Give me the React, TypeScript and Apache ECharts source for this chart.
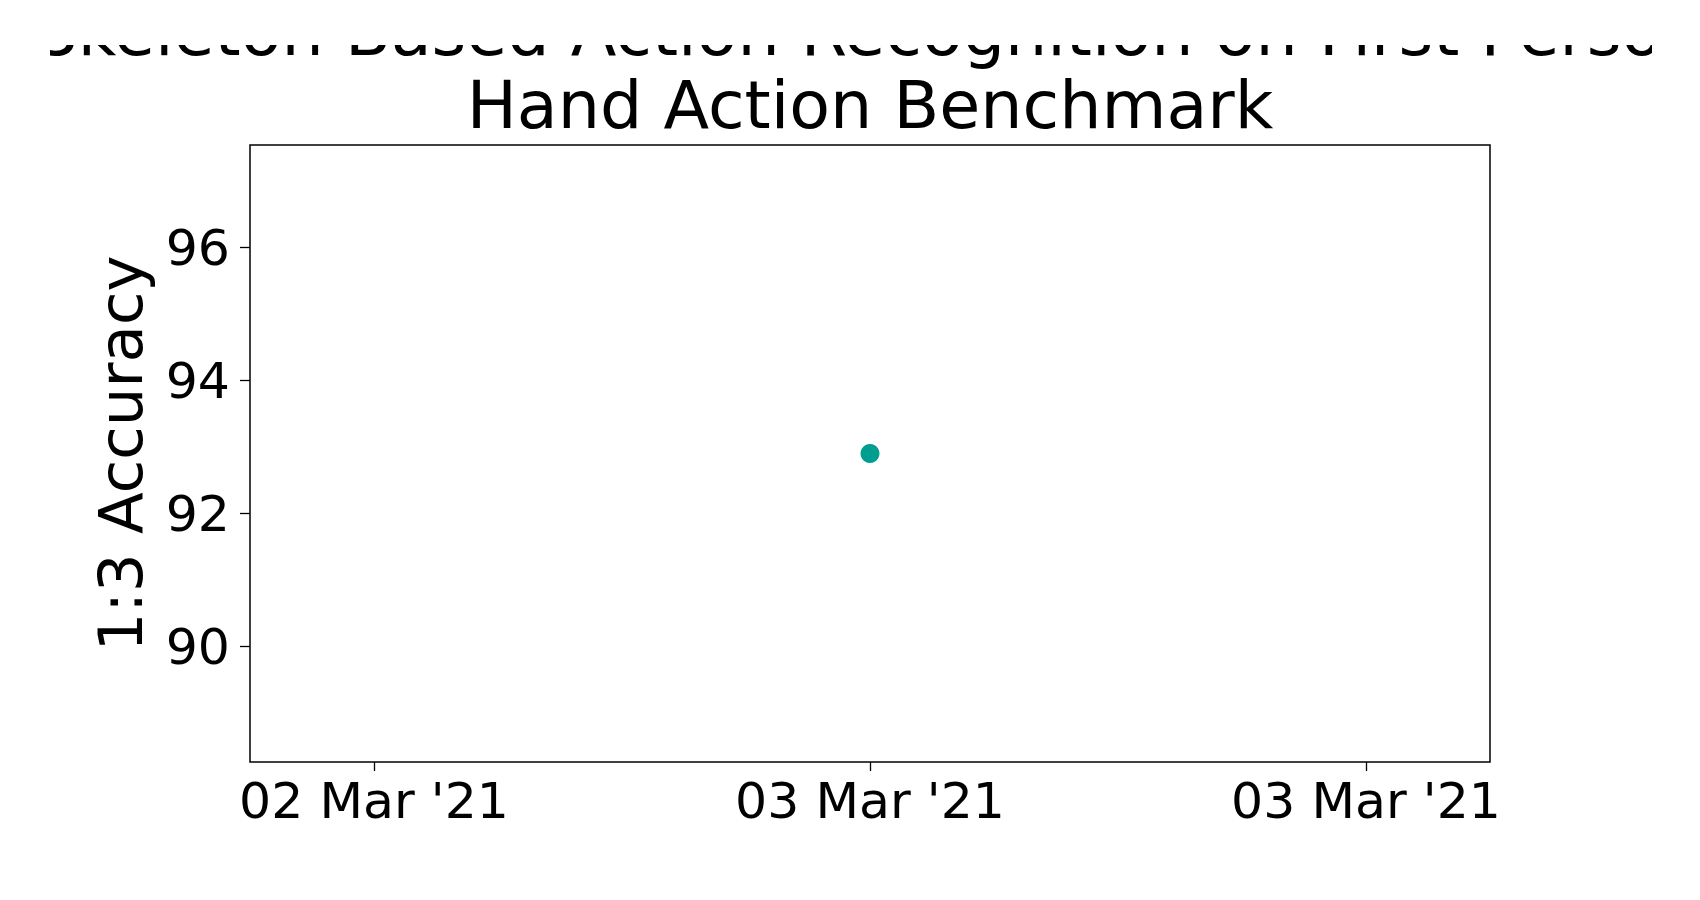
import React, { useEffect, useRef } from "react";
import * as echarts from "echarts";

// ---- data ----
const titleLines = [
  "Skeleton Based Action Recognition on First Person",
  "Hand Action Benchmark",
];
const yAxisTitle = "1:3 Accuracy";
const dates = ["2021-03-03T00:00"];
const accuracy = [92.9];
const yTicks = [90, 92, 94, 96];
const xTickDates = ["2021-03-02T12:00", "2021-03-03T00:00", "2021-03-03T12:00"];
const xRange = ["2021-03-02T09:00", "2021-03-03T15:00"];
const yRange = [88.255, 97.545];
const MONTHS = ["Jan", "Feb", "Mar", "Apr", "May", "Jun", "Jul", "Aug", "Sep", "Oct", "Nov", "Dec"];

function toUTC(s: string): number {
  const [d, t] = s.split("T");
  const [y, m, day] = d.split("-").map(Number);
  const [hh, mm] = (t || "00:00").split(":").map(Number);
  return Date.UTC(y, m - 1, day, hh, mm);
}

function fmtDate(v: number): string {
  const d = new Date(v);
  const dd = String(d.getUTCDate()).padStart(2, "0");
  const yy = String(d.getUTCFullYear() % 100).padStart(2, "0");
  return `${dd} ${MONTHS[d.getUTCMonth()]} '${yy}`;
}

const FONT = "'DejaVu Sans', sans-serif";

export default function App() {
  const ref = useRef<HTMLDivElement>(null);
  useEffect(() => {
    if (!ref.current) return;
    const chart = echarts.init(ref.current, undefined, { renderer: "svg" });
    const xTicks = xTickDates.map(toUTC);
    const option: any = {
      animation: false,
      backgroundColor: "#ffffff",
      grid: {
        left: 250,
        right: 210,
        top: 145,
        bottom: 138,
        show: true,
        borderColor: "#000",
        borderWidth: 1.5,
        backgroundColor: "transparent",
        containLabel: false,
      },
      xAxis: {
        type: "value",
        min: toUTC(xRange[0]),
        max: toUTC(xRange[1]),
        axisLine: { show: false },
        splitLine: { show: false },
        axisTick: {
          show: true,
          length: 9,
          lineStyle: { color: "#000", width: 1.3 },
          customValues: xTicks,
        },
        axisLabel: {
          customValues: xTicks,
          formatter: (v: number) => fmtDate(v),
          color: "#000",
          fontFamily: FONT,
          fontSize: 50.5,
          margin: 13,
          hideOverlap: false,
          showMinLabel: true,
          showMaxLabel: true,
        },
      },
      yAxis: {
        type: "value",
        min: yRange[0],
        max: yRange[1],
        name: yAxisTitle,
        nameLocation: "middle",
        nameGap: 99,
        nameTextStyle: { color: "#000", fontFamily: FONT, fontSize: 61 },
        axisLine: { show: false },
        splitLine: { show: false },
        axisTick: {
          show: true,
          length: 10,
          lineStyle: { color: "#000", width: 1.3 },
          customValues: yTicks,
        },
        axisLabel: {
          customValues: yTicks,
          color: "#000",
          fontFamily: FONT,
          fontSize: 50.5,
          margin: 20,
          formatter: (v: number) => String(v),
        },
      },
      series: [
        {
          type: "scatter",
          data: dates.map((d, i) => [toUTC(d), accuracy[i]]),
          symbol: "circle",
          symbolSize: 19,
          itemStyle: { color: "#009e90", opacity: 1 },
        },
      ],
      graphic: [
        {
          type: "text",
          z: 50,
          style: {
            text: titleLines[0],
            x: 870,
            y: 32,
            fill: "#000",
            font: `66.7px ${FONT}`,
            textAlign: "center",
            textVerticalAlign: "middle",
          },
        },
        {
          type: "text",
          z: 50,
          style: {
            text: titleLines[1],
            x: 870,
            y: 105,
            fill: "#000",
            font: `66.7px ${FONT}`,
            textAlign: "center",
            textVerticalAlign: "middle",
          },
        },
        { type: "rect", z: 100, shape: { x: 0, y: 0, width: 1700, height: 45 }, style: { fill: "#fff" } },
        { type: "rect", z: 100, shape: { x: 0, y: 0, width: 50, height: 70 }, style: { fill: "#fff" } },
        { type: "rect", z: 100, shape: { x: 1652, y: 0, width: 48, height: 70 }, style: { fill: "#fff" } },
      ],
    };
    chart.setOption(option);
    return () => chart.dispose();
  }, []);
  return (
    <div
      ref={ref}
      style={{ position: "absolute", left: 0, top: 0, width: 1700, height: 900 }}
    />
  );
}
